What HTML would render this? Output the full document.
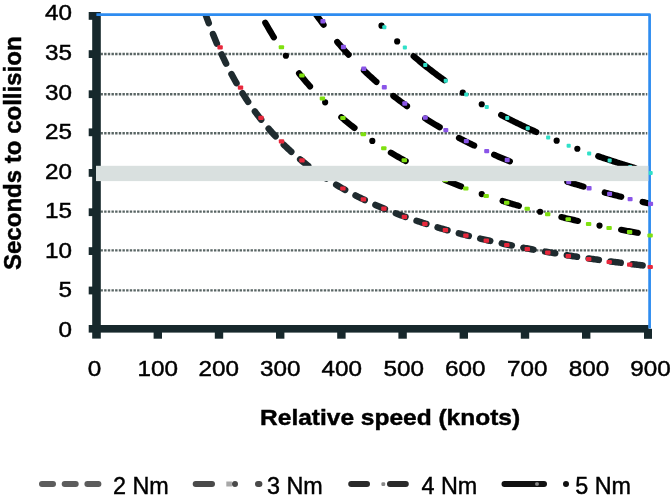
<!DOCTYPE html><html><head><meta charset="utf-8"><title>Seconds to collision vs relative speed</title>
<style>html,body{margin:0;padding:0;background:#fff}svg{display:block}text{stroke:#000;stroke-width:0.45px;font-family:"Liberation Sans",Arial,Helvetica,sans-serif;fill:#000}</style></head><body>
<svg width="672" height="499" viewBox="0 0 672 499">
<rect width="672" height="499" fill="#fff"/>
<defs><clipPath id="plot"><rect x="100" y="14.6" width="552" height="318"/></clipPath></defs>
<line x1="100.5" x2="647.3" y1="54.0" y2="54.0" stroke="#596564" stroke-width="2.4" stroke-dasharray="2.4 1.26"/>
<line x1="100.5" x2="647.3" y1="94.2" y2="94.2" stroke="#596564" stroke-width="2.4" stroke-dasharray="2.4 1.26"/>
<line x1="100.5" x2="647.3" y1="133.2" y2="133.2" stroke="#596564" stroke-width="2.4" stroke-dasharray="2.4 1.26"/>
<line x1="100.5" x2="647.3" y1="211.6" y2="211.6" stroke="#596564" stroke-width="2.4" stroke-dasharray="2.4 1.26"/>
<line x1="100.5" x2="647.3" y1="250.4" y2="250.4" stroke="#596564" stroke-width="2.4" stroke-dasharray="2.4 1.26"/>
<line x1="100.5" x2="647.3" y1="290.4" y2="290.4" stroke="#596564" stroke-width="2.4" stroke-dasharray="2.4 1.26"/>
<rect x="92.2" y="12" width="8.6" height="326.6" fill="#17282c"/>
<rect x="88.7" y="325" width="560" height="7.6" fill="#17282c"/>
<rect x="88.7" y="12.0" width="5" height="7.8" fill="#17282c"/>
<rect x="88.7" y="50.2" width="5" height="7.8" fill="#17282c"/>
<rect x="88.7" y="90.3" width="5" height="7.8" fill="#17282c"/>
<rect x="88.7" y="128.4" width="5" height="7.8" fill="#17282c"/>
<rect x="88.7" y="169.0" width="5" height="7.8" fill="#17282c"/>
<rect x="88.7" y="208.3" width="5" height="7.8" fill="#17282c"/>
<rect x="88.7" y="247.2" width="5" height="7.8" fill="#17282c"/>
<rect x="88.7" y="286.6" width="5" height="7.8" fill="#17282c"/>
<rect x="153.6" y="328" width="8.4" height="10.7" fill="#17282c"/>
<rect x="214.8" y="328" width="8.4" height="10.7" fill="#17282c"/>
<rect x="276.0" y="328" width="8.4" height="10.7" fill="#17282c"/>
<rect x="337.2" y="328" width="8.4" height="10.7" fill="#17282c"/>
<rect x="398.4" y="328" width="8.4" height="10.7" fill="#17282c"/>
<rect x="459.6" y="328" width="8.4" height="10.7" fill="#17282c"/>
<rect x="520.8" y="328" width="8.4" height="10.7" fill="#17282c"/>
<rect x="582.0" y="328" width="8.4" height="10.7" fill="#17282c"/>
<rect x="644" y="328.8" width="8" height="10" fill="#17282c"/>
<g clip-path="url(#plot)"><g transform="translate(-1.6 0)" fill="none" stroke-linecap="round" stroke-linejoin="round">
<path d="M188.93 -47.90 L190.15 -42.95 L191.38 -38.12 L192.61 -33.42 L193.84 -28.83 L195.07 -24.36 L196.30 -20.00 L197.53 -15.75 L198.76 -11.60 L199.99 -7.54 L201.22 -3.59 L202.44 0.28 L203.67 4.06 L204.90 7.75 L206.13 11.35 L207.36 14.88 L208.59 18.33 L209.82 21.70 L211.05 25.01 L212.28 28.24 L213.50 31.40 L214.73 34.50 L215.96 37.53 L217.19 40.51 L218.42 43.42 L219.65 46.27 L220.88 49.07 L222.11 51.81 L223.34 54.50 L224.57 57.14 L225.80 59.73 L227.02 62.26 L228.25 64.76 L229.48 67.20 L230.71 69.60 L231.94 71.96 L233.17 74.27 L234.40 76.54 L235.63 78.78 L236.86 80.97 L238.09 83.12 L239.31 85.24 L240.54 87.32 L241.77 89.37 L243.00 91.38 L244.23 93.36 L245.46 95.31 L246.69 97.22 L247.92 99.10 L249.15 100.95 L250.38 102.78 L251.60 104.57 L252.83 106.34 L254.06 108.08 L255.29 109.79 L256.52 111.47 L257.75 113.13 L258.98 114.76 L260.21 116.37 L261.44 117.96 L262.67 119.52 L263.89 121.06 L265.12 122.58 L266.35 124.07 L267.58 125.54 L268.81 126.99 L270.04 128.43 L271.27 129.84 L272.50 131.23 L273.73 132.60 L274.96 133.95 L276.18 135.29 L277.41 136.60 L278.64 137.90 L279.87 139.18 L281.10 140.45 L282.33 141.70 L283.56 142.93 L284.79 144.14 L286.02 145.34 L287.25 146.52 L288.47 147.69 L289.70 148.85 L290.93 149.98 L292.16 151.11 L293.39 152.22 L294.62 153.32 L295.85 154.40 L297.08 155.47 L298.31 156.53 L299.54 157.57 L300.76 158.60 L301.99 159.62 L303.22 160.63 L304.45 161.62 L305.68 162.61 L306.91 163.58 L308.14 164.54 L309.37 165.49 L310.60 166.43 L311.83 167.36 L313.05 168.27 L314.28 169.18 L315.51 170.08 L316.74 170.96 L317.97 171.84 L319.20 172.71 L320.43 173.56 L321.66 174.41 L322.89 175.25 L324.12 176.08 L325.34 176.90 L326.57 177.72 L327.80 178.52 L329.03 179.31 L330.26 180.10 L331.49 180.88 L332.72 181.65 L333.95 182.41 L335.18 183.17 L336.41 183.91 L337.63 184.65 L338.86 185.38 L340.09 186.11 L341.32 186.83 L342.55 187.54 L343.78 188.24 L345.01 188.93 L346.24 189.62 L347.47 190.31 L348.70 190.98 L349.92 191.65 L351.15 192.31 L352.38 192.97 L353.61 193.62 L354.84 194.26 L356.07 194.90 L357.30 195.53 L358.53 196.16 L359.76 196.78 L360.99 197.39 L362.21 198.00 L363.44 198.60 L364.67 199.20 L365.90 199.79 L367.13 200.38 L368.36 200.96 L369.59 201.54 L370.82 202.11 L372.05 202.67 L373.28 203.23 L374.50 203.79 L375.73 204.34 L376.96 204.88 L378.19 205.43 L379.42 205.96 L380.65 206.49 L381.88 207.02 L383.11 207.54 L384.34 208.06 L385.56 208.58 L386.79 209.08 L388.02 209.59 L389.25 210.09 L390.48 210.59 L391.71 211.08 L392.94 211.57 L394.17 212.05 L395.40 212.53 L396.63 213.01 L397.86 213.48 L399.08 213.95 L400.31 214.42 L401.54 214.88 L402.77 215.33 L404.00 215.79 L405.23 216.24 L406.46 216.69 L407.69 217.13 L408.92 217.57 L410.15 218.00 L411.37 218.44 L412.60 218.87 L413.83 219.29 L415.06 219.72 L416.29 220.14 L417.52 220.55 L418.75 220.96 L419.98 221.37 L421.21 221.78 L422.44 222.19 L423.66 222.59 L424.89 222.98 L426.12 223.38 L427.35 223.77 L428.58 224.16 L429.81 224.55 L431.04 224.93 L432.27 225.31 L433.50 225.69 L434.73 226.06 L435.95 226.43 L437.18 226.80 L438.41 227.17 L439.64 227.54 L440.87 227.90 L442.10 228.26 L443.33 228.61 L444.56 228.97 L445.79 229.32 L447.02 229.67 L448.24 230.01 L449.47 230.36 L450.70 230.70 L451.93 231.04 L453.16 231.38 L454.39 231.71 L455.62 232.04 L456.85 232.37 L458.08 232.70 L459.31 233.03 L460.53 233.35 L461.76 233.67 L462.99 233.99 L464.22 234.31 L465.45 234.62 L466.68 234.94 L467.91 235.25 L469.14 235.56 L470.37 235.86 L471.60 236.17 L472.82 236.47 L474.05 236.77 L475.28 237.07 L476.51 237.37 L477.74 237.66 L478.97 237.95 L480.20 238.25 L481.43 238.54 L482.66 238.82 L483.89 239.11 L485.11 239.39 L486.34 239.67 L487.57 239.95 L488.80 240.23 L490.03 240.51 L491.26 240.79 L492.49 241.06 L493.72 241.33 L494.95 241.60 L496.18 241.87 L497.40 242.13 L498.63 242.40 L499.86 242.66 L501.09 242.93 L502.32 243.19 L503.55 243.44 L504.78 243.70 L506.01 243.96 L507.24 244.21 L508.47 244.46 L509.69 244.71 L510.92 244.96 L512.15 245.21 L513.38 245.46 L514.61 245.70 L515.84 245.95 L517.07 246.19 L518.30 246.43 L519.53 246.67 L520.76 246.91 L521.98 247.14 L523.21 247.38 L524.44 247.61 L525.67 247.85 L526.90 248.08 L528.13 248.31 L529.36 248.54 L530.59 248.76 L531.82 248.99 L533.05 249.21 L534.27 249.44 L535.50 249.66 L536.73 249.88 L537.96 250.10 L539.19 250.32 L540.42 250.54 L541.65 250.75 L542.88 250.97 L544.11 251.18 L545.34 251.40 L546.56 251.61 L547.79 251.82 L549.02 252.03 L550.25 252.23 L551.48 252.44 L552.71 252.65 L553.94 252.85 L555.17 253.06 L556.40 253.26 L557.62 253.46 L558.85 253.66 L560.08 253.86 L561.31 254.06 L562.54 254.25 L563.77 254.45 L565.00 254.65 L566.23 254.84 L567.46 255.03 L568.69 255.23 L569.91 255.42 L571.14 255.61 L572.37 255.80 L573.60 255.98 L574.83 256.17 L576.06 256.36 L577.29 256.54 L578.52 256.73 L579.75 256.91 L580.98 257.09 L582.21 257.27 L583.43 257.45 L584.66 257.63 L585.89 257.81 L587.12 257.99 L588.35 258.17 L589.58 258.34 L590.81 258.52 L592.04 258.69 L593.27 258.87 L594.50 259.04 L595.72 259.21 L596.95 259.38 L598.18 259.55 L599.41 259.72 L600.64 259.89 L601.87 260.06 L603.10 260.23 L604.33 260.39 L605.56 260.56 L606.79 260.72 L608.01 260.88 L609.24 261.05 L610.47 261.21 L611.70 261.37 L612.93 261.53 L614.16 261.69 L615.39 261.85 L616.62 262.01 L617.85 262.17 L619.08 262.32 L620.30 262.48 L621.53 262.63 L622.76 262.79 L623.99 262.94 L625.22 263.10 L626.45 263.25 L627.68 263.40 L628.91 263.55 L630.14 263.70 L631.37 263.85 L632.59 264.00 L633.82 264.15 L635.05 264.30 L636.28 264.44 L637.51 264.59 L638.74 264.73 L639.97 264.88 L641.20 265.02 L642.43 265.17 L643.66 265.31 L644.88 265.45 L646.11 265.59 L647.34 265.74 L648.57 265.88 L649.80 266.02" stroke="#1f2b2f" stroke-width="6.5" stroke-dasharray="10.3 11.75" stroke-dashoffset="2.2"/>
<path d="M261.44 12.54 L262.67 14.88 L263.89 17.19 L265.12 19.46 L266.35 21.70 L267.58 23.91 L268.81 26.09 L270.04 28.24 L271.27 30.35 L272.50 32.44 L273.73 34.50 L274.96 36.53 L276.18 38.53 L277.41 40.51 L278.64 42.45 L279.87 44.38 L281.10 46.27 L282.33 48.14 L283.56 49.99 L284.79 51.81 L286.02 53.61 L287.25 55.39 L288.47 57.14 L289.70 58.87 L290.93 60.58 L292.16 62.26 L293.39 63.93 L294.62 65.58 L295.85 67.20 L297.08 68.80 L298.31 70.39 L299.54 71.96 L300.76 73.50 L301.99 75.03 L303.22 76.54 L304.45 78.04 L305.68 79.51 L306.91 80.97 L308.14 82.41 L309.37 83.83 L310.60 85.24 L311.83 86.63 L313.05 88.01 L314.28 89.37 L315.51 90.71 L316.74 92.04 L317.97 93.36 L319.20 94.66 L320.43 95.95 L321.66 97.22 L322.89 98.48 L324.12 99.72 L325.34 100.95 L326.57 102.17 L327.80 103.38 L329.03 104.57 L330.26 105.75 L331.49 106.92 L332.72 108.08 L333.95 109.22 L335.18 110.35 L336.41 111.47 L337.63 112.58 L338.86 113.68 L340.09 114.76 L341.32 115.84 L342.55 116.90 L343.78 117.96 L345.01 119.00 L346.24 120.04 L347.47 121.06 L348.70 122.07 L349.92 123.08 L351.15 124.07 L352.38 125.05 L353.61 126.03 L354.84 126.99 L356.07 127.95 L357.30 128.90 L358.53 129.84 L359.76 130.77 L360.99 131.69 L362.21 132.60 L363.44 133.50 L364.67 134.40 L365.90 135.29 L367.13 136.17 L368.36 137.04 L369.59 137.90 L370.82 138.76 L372.05 139.61 L373.28 140.45 L374.50 141.28 L375.73 142.11 L376.96 142.93 L378.19 143.74 L379.42 144.54 L380.65 145.34 L381.88 146.13 L383.11 146.92 L384.34 147.69 L385.56 148.46 L386.79 149.23 L388.02 149.98 L389.25 150.74 L390.48 151.48 L391.71 152.22 L392.94 152.95 L394.17 153.68 L395.40 154.40 L396.63 155.11 L397.86 155.82 L399.08 156.53 L400.31 157.22 L401.54 157.92 L402.77 158.60 L404.00 159.28 L405.23 159.96 L406.46 160.63 L407.69 161.29 L408.92 161.95 L410.15 162.61 L411.37 163.26 L412.60 163.90 L413.83 164.54 L415.06 165.17 L416.29 165.80 L417.52 166.43 L418.75 167.05 L419.98 167.66 L421.21 168.27 L422.44 168.88 L423.66 169.48 L424.89 170.08 L426.12 170.67 L427.35 171.26 L428.58 171.84 L429.81 172.42 L431.04 172.99 L432.27 173.56 L433.50 174.13 L434.73 174.69 L435.95 175.25 L437.18 175.81 L438.41 176.36 L439.64 176.90 L440.87 177.45 L442.10 177.98 L443.33 178.52 L444.56 179.05 L445.79 179.58 L447.02 180.10 L448.24 180.62 L449.47 181.14 L450.70 181.65 L451.93 182.16 L453.16 182.66 L454.39 183.17 L455.62 183.67 L456.85 184.16 L458.08 184.65 L459.31 185.14 L460.53 185.63 L461.76 186.11 L462.99 186.59 L464.22 187.06 L465.45 187.54 L466.68 188.01 L467.91 188.47 L469.14 188.93 L470.37 189.39 L471.60 189.85 L472.82 190.31 L474.05 190.76 L475.28 191.21 L476.51 191.65 L477.74 192.09 L478.97 192.53 L480.20 192.97 L481.43 193.40 L482.66 193.83 L483.89 194.26 L485.11 194.69 L486.34 195.11 L487.57 195.53 L488.80 195.95 L490.03 196.37 L491.26 196.78 L492.49 197.19 L493.72 197.60 L494.95 198.00 L496.18 198.40 L497.40 198.80 L498.63 199.20 L499.86 199.60 L501.09 199.99 L502.32 200.38 L503.55 200.77 L504.78 201.15 L506.01 201.54 L507.24 201.92 L508.47 202.29 L509.69 202.67 L510.92 203.05 L512.15 203.42 L513.38 203.79 L514.61 204.16 L515.84 204.52 L517.07 204.88 L518.30 205.25 L519.53 205.60 L520.76 205.96 L521.98 206.32 L523.21 206.67 L524.44 207.02 L525.67 207.37 L526.90 207.72 L528.13 208.06 L529.36 208.40 L530.59 208.75 L531.82 209.08 L533.05 209.42 L534.27 209.76 L535.50 210.09 L536.73 210.42 L537.96 210.75 L539.19 211.08 L540.42 211.41 L541.65 211.73 L542.88 212.05 L544.11 212.37 L545.34 212.69 L546.56 213.01 L547.79 213.33 L549.02 213.64 L550.25 213.95 L551.48 214.26 L552.71 214.57 L553.94 214.88 L555.17 215.18 L556.40 215.49 L557.62 215.79 L558.85 216.09 L560.08 216.39 L561.31 216.69 L562.54 216.98 L563.77 217.28 L565.00 217.57 L566.23 217.86 L567.46 218.15 L568.69 218.44 L569.91 218.72 L571.14 219.01 L572.37 219.29 L573.60 219.58 L574.83 219.86 L576.06 220.14 L577.29 220.41 L578.52 220.69 L579.75 220.96 L580.98 221.24 L582.21 221.51 L583.43 221.78 L584.66 222.05 L585.89 222.32 L587.12 222.59 L588.35 222.85 L589.58 223.12 L590.81 223.38 L592.04 223.64 L593.27 223.90 L594.50 224.16 L595.72 224.42 L596.95 224.67 L598.18 224.93 L599.41 225.18 L600.64 225.44 L601.87 225.69 L603.10 225.94 L604.33 226.19 L605.56 226.43 L606.79 226.68 L608.01 226.93 L609.24 227.17 L610.47 227.41 L611.70 227.66 L612.93 227.90 L614.16 228.14 L615.39 228.38 L616.62 228.61 L617.85 228.85 L619.08 229.08 L620.30 229.32 L621.53 229.55 L622.76 229.78 L623.99 230.01 L625.22 230.24 L626.45 230.47 L627.68 230.70 L628.91 230.93 L630.14 231.15 L631.37 231.38 L632.59 231.60 L633.82 231.82 L635.05 232.04 L636.28 232.26 L637.51 232.48 L638.74 232.70 L639.97 232.92 L641.20 233.14 L642.43 233.35 L643.66 233.57 L644.88 233.78 L646.11 233.99 L647.34 234.20 L648.57 234.41 L649.80 234.62" stroke="#000" stroke-width="6.2" stroke-dasharray="17 22 0 22" stroke-dashoffset="-11.5"/>
<path d="M305.68 -3.59 L306.91 -1.64 L308.14 0.28 L309.37 2.18 L310.60 4.06 L311.83 5.91 L313.05 7.75 L314.28 9.56 L315.51 11.35 L316.74 13.13 L317.97 14.88 L319.20 16.61 L320.43 18.33 L321.66 20.03 L322.89 21.70 L324.12 23.36 L325.34 25.01 L326.57 26.63 L327.80 28.24 L329.03 29.83 L330.26 31.40 L331.49 32.96 L332.72 34.50 L333.95 36.02 L335.18 37.53 L336.41 39.03 L337.63 40.51 L338.86 41.97 L340.09 43.42 L341.32 44.85 L342.55 46.27 L343.78 47.68 L345.01 49.07 L346.24 50.45 L347.47 51.81 L348.70 53.16 L349.92 54.50 L351.15 55.83 L352.38 57.14 L353.61 58.44 L354.84 59.73 L356.07 61.00 L357.30 62.26 L358.53 63.52 L359.76 64.76 L360.99 65.98 L362.21 67.20 L363.44 68.41 L364.67 69.60 L365.90 70.78 L367.13 71.96 L368.36 73.12 L369.59 74.27 L370.82 75.41 L372.05 76.54 L373.28 77.66 L374.50 78.78 L375.73 79.88 L376.96 80.97 L378.19 82.05 L379.42 83.12 L380.65 84.19 L381.88 85.24 L383.11 86.29 L384.34 87.32 L385.56 88.35 L386.79 89.37 L388.02 90.38 L389.25 91.38 L390.48 92.37 L391.71 93.36 L392.94 94.34 L394.17 95.31 L395.40 96.27 L396.63 97.22 L397.86 98.16 L399.08 99.10 L400.31 100.03 L401.54 100.95 L402.77 101.87 L404.00 102.78 L405.23 103.68 L406.46 104.57 L407.69 105.46 L408.92 106.34 L410.15 107.21 L411.37 108.08 L412.60 108.93 L413.83 109.79 L415.06 110.63 L416.29 111.47 L417.52 112.30 L418.75 113.13 L419.98 113.95 L421.21 114.76 L422.44 115.57 L423.66 116.37 L424.89 117.17 L426.12 117.96 L427.35 118.74 L428.58 119.52 L429.81 120.29 L431.04 121.06 L432.27 121.82 L433.50 122.58 L434.73 123.33 L435.95 124.07 L437.18 124.81 L438.41 125.54 L439.64 126.27 L440.87 126.99 L442.10 127.71 L443.33 128.43 L444.56 129.13 L445.79 129.84 L447.02 130.53 L448.24 131.23 L449.47 131.92 L450.70 132.60 L451.93 133.28 L453.16 133.95 L454.39 134.62 L455.62 135.29 L456.85 135.95 L458.08 136.60 L459.31 137.26 L460.53 137.90 L461.76 138.55 L462.99 139.18 L464.22 139.82 L465.45 140.45 L466.68 141.07 L467.91 141.70 L469.14 142.31 L470.37 142.93 L471.60 143.54 L472.82 144.14 L474.05 144.74 L475.28 145.34 L476.51 145.93 L477.74 146.52 L478.97 147.11 L480.20 147.69 L481.43 148.27 L482.66 148.85 L483.89 149.42 L485.11 149.98 L486.34 150.55 L487.57 151.11 L488.80 151.67 L490.03 152.22 L491.26 152.77 L492.49 153.32 L493.72 153.86 L494.95 154.40 L496.18 154.94 L497.40 155.47 L498.63 156.00 L499.86 156.53 L501.09 157.05 L502.32 157.57 L503.55 158.09 L504.78 158.60 L506.01 159.11 L507.24 159.62 L508.47 160.13 L509.69 160.63 L510.92 161.13 L512.15 161.62 L513.38 162.12 L514.61 162.61 L515.84 163.09 L517.07 163.58 L518.30 164.06 L519.53 164.54 L520.76 165.02 L521.98 165.49 L523.21 165.96 L524.44 166.43 L525.67 166.89 L526.90 167.36 L528.13 167.82 L529.36 168.27 L530.59 168.73 L531.82 169.18 L533.05 169.63 L534.27 170.08 L535.50 170.52 L536.73 170.96 L537.96 171.40 L539.19 171.84 L540.42 172.27 L541.65 172.71 L542.88 173.14 L544.11 173.56 L545.34 173.99 L546.56 174.41 L547.79 174.83 L549.02 175.25 L550.25 175.67 L551.48 176.08 L552.71 176.49 L553.94 176.90 L555.17 177.31 L556.40 177.72 L557.62 178.12 L558.85 178.52 L560.08 178.92 L561.31 179.31 L562.54 179.71 L563.77 180.10 L565.00 180.49 L566.23 180.88 L567.46 181.27 L568.69 181.65 L569.91 182.03 L571.14 182.41 L572.37 182.79 L573.60 183.17 L574.83 183.54 L576.06 183.91 L577.29 184.28 L578.52 184.65 L579.75 185.02 L580.98 185.38 L582.21 185.75 L583.43 186.11 L584.66 186.47 L585.89 186.83 L587.12 187.18 L588.35 187.54 L589.58 187.89 L590.81 188.24 L592.04 188.59 L593.27 188.93 L594.50 189.28 L595.72 189.62 L596.95 189.97 L598.18 190.31 L599.41 190.64 L600.64 190.98 L601.87 191.32 L603.10 191.65 L604.33 191.98 L605.56 192.31 L606.79 192.64 L608.01 192.97 L609.24 193.29 L610.47 193.62 L611.70 193.94 L612.93 194.26 L614.16 194.58 L615.39 194.90 L616.62 195.22 L617.85 195.53 L619.08 195.85 L620.30 196.16 L621.53 196.47 L622.76 196.78 L623.99 197.09 L625.22 197.39 L626.45 197.70 L627.68 198.00 L628.91 198.30 L630.14 198.60 L631.37 198.90 L632.59 199.20 L633.82 199.50 L635.05 199.79 L636.28 200.09 L637.51 200.38 L638.74 200.67 L639.97 200.96 L641.20 201.25 L642.43 201.54 L643.66 201.82 L644.88 202.11 L646.11 202.39 L647.34 202.67 L648.57 202.95 L649.80 203.23" stroke="#000" stroke-width="6.2" stroke-dasharray="17 22" stroke-dashoffset="21.6"/>
<path d="M383.11 25.66 L384.34 26.95 L385.56 28.24 L386.79 29.51 L388.02 30.77 L389.25 32.03 L390.48 33.27 L391.71 34.50 L392.94 35.72 L394.17 36.93 L395.40 38.13 L396.63 39.32 L397.86 40.51 L399.08 41.68 L400.31 42.84 L401.54 43.99 L402.77 45.14 L404.00 46.27 L405.23 47.40 L406.46 48.51 L407.69 49.62 L408.92 50.72 L410.15 51.81 L411.37 52.89 L412.60 53.97 L413.83 55.03 L415.06 56.09 L416.29 57.14 L417.52 58.18 L418.75 59.21 L419.98 60.24 L421.21 61.25 L422.44 62.26 L423.66 63.27 L424.89 64.26 L426.12 65.25 L427.35 66.23 L428.58 67.20 L429.81 68.17 L431.04 69.12 L432.27 70.07 L433.50 71.02 L434.73 71.96 L435.95 72.89 L437.18 73.81 L438.41 74.73 L439.64 75.64 L440.87 76.54 L442.10 77.44 L443.33 78.33 L444.56 79.22 L445.79 80.10 L447.02 80.97 L448.24 81.83 L449.47 82.70 L450.70 83.55 L451.93 84.40 L453.16 85.24 L454.39 86.08 L455.62 86.91 L456.85 87.74 L458.08 88.56 L459.31 89.37 L460.53 90.18 L461.76 90.98 L462.99 91.78 L464.22 92.57 L465.45 93.36 L466.68 94.14 L467.91 94.92 L469.14 95.69 L470.37 96.46 L471.60 97.22 L472.82 97.98 L474.05 98.73 L475.28 99.48 L476.51 100.22 L477.74 100.95 L478.97 101.69 L480.20 102.42 L481.43 103.14 L482.66 103.86 L483.89 104.57 L485.11 105.28 L486.34 105.99 L487.57 106.69 L488.80 107.38 L490.03 108.08 L491.26 108.76 L492.49 109.45 L493.72 110.13 L494.95 110.80 L496.18 111.47 L497.40 112.14 L498.63 112.80 L499.86 113.46 L501.09 114.11 L502.32 114.76 L503.55 115.41 L504.78 116.05 L506.01 116.69 L507.24 117.33 L508.47 117.96 L509.69 118.59 L510.92 119.21 L512.15 119.83 L513.38 120.45 L514.61 121.06 L515.84 121.67 L517.07 122.27 L518.30 122.88 L519.53 123.47 L520.76 124.07 L521.98 124.66 L523.21 125.25 L524.44 125.83 L525.67 126.42 L526.90 126.99 L528.13 127.57 L529.36 128.14 L530.59 128.71 L531.82 129.27 L533.05 129.84 L534.27 130.40 L535.50 130.95 L536.73 131.50 L537.96 132.05 L539.19 132.60 L540.42 133.14 L541.65 133.68 L542.88 134.22 L544.11 134.76 L545.34 135.29 L546.56 135.82 L547.79 136.34 L549.02 136.87 L550.25 137.39 L551.48 137.90 L552.71 138.42 L553.94 138.93 L555.17 139.44 L556.40 139.94 L557.62 140.45 L558.85 140.95 L560.08 141.45 L561.31 141.94 L562.54 142.44 L563.77 142.93 L565.00 143.41 L566.23 143.90 L567.46 144.38 L568.69 144.86 L569.91 145.34 L571.14 145.82 L572.37 146.29 L573.60 146.76 L574.83 147.23 L576.06 147.69 L577.29 148.16 L578.52 148.62 L579.75 149.07 L580.98 149.53 L582.21 149.98 L583.43 150.44 L584.66 150.89 L585.89 151.33 L587.12 151.78 L588.35 152.22 L589.58 152.66 L590.81 153.10 L592.04 153.53 L593.27 153.97 L594.50 154.40 L595.72 154.83 L596.95 155.26 L598.18 155.68 L599.41 156.11 L600.64 156.53 L601.87 156.95 L603.10 157.36 L604.33 157.78 L605.56 158.19 L606.79 158.60 L608.01 159.01 L609.24 159.42 L610.47 159.82 L611.70 160.23 L612.93 160.63 L614.16 161.03 L615.39 161.43 L616.62 161.82 L617.85 162.22 L619.08 162.61 L620.30 163.00 L621.53 163.39 L622.76 163.77 L623.99 164.16 L625.22 164.54 L626.45 164.92 L627.68 165.30 L628.91 165.68 L630.14 166.05 L631.37 166.43 L632.59 166.80 L633.82 167.17 L635.05 167.54 L636.28 167.91 L637.51 168.27 L638.74 168.64 L639.97 169.00 L641.20 169.36 L642.43 169.72 L643.66 170.08 L644.88 170.43 L646.11 170.79 L647.34 171.14 L648.57 171.49 L649.80 171.84" stroke="#000" stroke-width="6.2" stroke-dasharray="39 22.2 0 22.2 0 22.2" stroke-dashoffset="61.2"/>
</g></g>
<path d="M96.4 14.6 H649.6 V328.6" fill="none" stroke="#2e8cf0" stroke-width="2.7" stroke-linejoin="round"/>
<g>
<rect x="217.4" y="45.2" width="5.4" height="4.2" rx="1" fill="#e8283c"/>
<rect x="237.8" y="85.5" width="5.4" height="4.2" rx="1" fill="#e8283c"/>
<rect x="258.3" y="115.8" width="5.4" height="4.2" rx="1" fill="#e8283c"/>
<rect x="278.8" y="139.3" width="5.4" height="4.2" rx="1" fill="#e8283c"/>
<rect x="299.3" y="158.2" width="5.4" height="4.2" rx="1" fill="#e8283c"/>
<rect x="319.8" y="173.6" width="5.4" height="4.2" rx="1" fill="#e8283c"/>
<rect x="340.2" y="186.4" width="5.4" height="4.2" rx="1" fill="#e8283c"/>
<rect x="360.7" y="197.3" width="5.4" height="4.2" rx="1" fill="#e8283c"/>
<rect x="381.2" y="206.6" width="5.4" height="4.2" rx="1" fill="#e8283c"/>
<rect x="401.7" y="214.7" width="5.4" height="4.2" rx="1" fill="#e8283c"/>
<rect x="422.2" y="221.8" width="5.4" height="4.2" rx="1" fill="#e8283c"/>
<rect x="442.7" y="228.0" width="5.4" height="4.2" rx="1" fill="#e8283c"/>
<rect x="463.2" y="233.5" width="5.4" height="4.2" rx="1" fill="#e8283c"/>
<rect x="483.6" y="238.5" width="5.4" height="4.2" rx="1" fill="#e8283c"/>
<rect x="504.1" y="242.9" width="5.4" height="4.2" rx="1" fill="#e8283c"/>
<rect x="524.6" y="247.0" width="5.4" height="4.2" rx="1" fill="#e8283c"/>
<rect x="545.1" y="250.6" width="5.4" height="4.2" rx="1" fill="#e8283c"/>
<rect x="565.6" y="254.0" width="5.4" height="4.2" rx="1" fill="#e8283c"/>
<rect x="586.0" y="257.1" width="5.4" height="4.2" rx="1" fill="#e8283c"/>
<rect x="606.5" y="259.9" width="5.4" height="4.2" rx="1" fill="#e8283c"/>
<rect x="627.0" y="262.5" width="5.4" height="4.2" rx="1" fill="#e8283c"/>
<rect x="647.5" y="264.9" width="5.4" height="4.2" rx="1" fill="#e8283c"/>
<rect x="278.7" y="45.3" width="5.4" height="4.0" rx="1" fill="#7fe010"/>
<rect x="299.2" y="73.5" width="5.4" height="4.0" rx="1" fill="#7fe010"/>
<rect x="319.7" y="96.6" width="5.4" height="4.0" rx="1" fill="#7fe010"/>
<rect x="340.2" y="115.9" width="5.4" height="4.0" rx="1" fill="#7fe010"/>
<rect x="360.6" y="132.2" width="5.4" height="4.0" rx="1" fill="#7fe010"/>
<rect x="381.1" y="146.2" width="5.4" height="4.0" rx="1" fill="#7fe010"/>
<rect x="401.6" y="158.3" width="5.4" height="4.0" rx="1" fill="#7fe010"/>
<rect x="422.1" y="168.9" width="5.4" height="4.0" rx="1" fill="#7fe010"/>
<rect x="442.6" y="178.2" width="5.4" height="4.0" rx="1" fill="#7fe010"/>
<rect x="463.1" y="186.5" width="5.4" height="4.0" rx="1" fill="#7fe010"/>
<rect x="483.5" y="194.0" width="5.4" height="4.0" rx="1" fill="#7fe010"/>
<rect x="504.0" y="200.7" width="5.4" height="4.0" rx="1" fill="#7fe010"/>
<rect x="524.5" y="206.7" width="5.4" height="4.0" rx="1" fill="#7fe010"/>
<rect x="545.0" y="212.2" width="5.4" height="4.0" rx="1" fill="#7fe010"/>
<rect x="565.5" y="217.2" width="5.4" height="4.0" rx="1" fill="#7fe010"/>
<rect x="585.9" y="221.9" width="5.4" height="4.0" rx="1" fill="#7fe010"/>
<rect x="606.4" y="226.1" width="5.4" height="4.0" rx="1" fill="#7fe010"/>
<rect x="626.9" y="230.0" width="5.4" height="4.0" rx="1" fill="#7fe010"/>
<rect x="647.4" y="233.6" width="5.4" height="4.0" rx="1" fill="#7fe010"/>
<rect x="320.4" y="19.1" width="5.0" height="4.4" rx="1" fill="#8a55e8"/>
<rect x="340.9" y="44.8" width="5.0" height="4.4" rx="1" fill="#8a55e8"/>
<rect x="361.3" y="66.5" width="5.0" height="4.4" rx="1" fill="#8a55e8"/>
<rect x="381.8" y="85.1" width="5.0" height="4.4" rx="1" fill="#8a55e8"/>
<rect x="402.3" y="101.3" width="5.0" height="4.4" rx="1" fill="#8a55e8"/>
<rect x="422.8" y="115.4" width="5.0" height="4.4" rx="1" fill="#8a55e8"/>
<rect x="443.3" y="127.9" width="5.0" height="4.4" rx="1" fill="#8a55e8"/>
<rect x="463.8" y="138.9" width="5.0" height="4.4" rx="1" fill="#8a55e8"/>
<rect x="484.2" y="148.9" width="5.0" height="4.4" rx="1" fill="#8a55e8"/>
<rect x="504.7" y="157.8" width="5.0" height="4.4" rx="1" fill="#8a55e8"/>
<rect x="525.2" y="165.9" width="5.0" height="4.4" rx="1" fill="#8a55e8"/>
<rect x="545.7" y="173.2" width="5.0" height="4.4" rx="1" fill="#8a55e8"/>
<rect x="566.2" y="179.9" width="5.0" height="4.4" rx="1" fill="#8a55e8"/>
<rect x="586.6" y="186.0" width="5.0" height="4.4" rx="1" fill="#8a55e8"/>
<rect x="607.1" y="191.7" width="5.0" height="4.4" rx="1" fill="#8a55e8"/>
<rect x="627.6" y="196.9" width="5.0" height="4.4" rx="1" fill="#8a55e8"/>
<rect x="648.1" y="201.7" width="5.0" height="4.4" rx="1" fill="#8a55e8"/>
<rect x="382.3" y="25.3" width="4.1" height="4.0" rx="1" fill="#30e0c8"/>
<rect x="402.8" y="45.5" width="4.1" height="4.0" rx="1" fill="#30e0c8"/>
<rect x="423.2" y="63.1" width="4.1" height="4.0" rx="1" fill="#30e0c8"/>
<rect x="443.7" y="78.7" width="4.1" height="4.0" rx="1" fill="#30e0c8"/>
<rect x="464.2" y="92.6" width="4.1" height="4.0" rx="1" fill="#30e0c8"/>
<rect x="484.7" y="105.0" width="4.1" height="4.0" rx="1" fill="#30e0c8"/>
<rect x="505.2" y="116.1" width="4.1" height="4.0" rx="1" fill="#30e0c8"/>
<rect x="525.7" y="126.2" width="4.1" height="4.0" rx="1" fill="#30e0c8"/>
<rect x="546.1" y="135.4" width="4.1" height="4.0" rx="1" fill="#30e0c8"/>
<rect x="566.6" y="143.7" width="4.1" height="4.0" rx="1" fill="#30e0c8"/>
<rect x="587.1" y="151.4" width="4.1" height="4.0" rx="1" fill="#30e0c8"/>
<rect x="607.6" y="158.5" width="4.1" height="4.0" rx="1" fill="#30e0c8"/>
<rect x="628.1" y="165.0" width="4.1" height="4.0" rx="1" fill="#30e0c8"/>
<rect x="648.6" y="171.0" width="4.1" height="4.0" rx="1" fill="#30e0c8"/>
</g>
<rect x="96" y="165.8" width="552.3" height="15.3" fill="#d9e0df"/>
<text transform="translate(71.9 20.3) scale(1.103 1)" font-size="22.0" text-anchor="end">40</text>
<text transform="translate(71.9 60.1) scale(1.103 1)" font-size="22.0" text-anchor="end">35</text>
<text transform="translate(71.9 99.8) scale(1.103 1)" font-size="22.0" text-anchor="end">30</text>
<text transform="translate(71.9 138.8) scale(1.103 1)" font-size="22.0" text-anchor="end">25</text>
<text transform="translate(71.9 178.9) scale(1.103 1)" font-size="22.0" text-anchor="end">20</text>
<text transform="translate(71.9 217.8) scale(1.103 1)" font-size="22.0" text-anchor="end">15</text>
<text transform="translate(71.9 257.6) scale(1.103 1)" font-size="22.0" text-anchor="end">10</text>
<text transform="translate(71.9 296.8) scale(1.103 1)" font-size="22.0" text-anchor="end">5</text>
<text transform="translate(71.9 336.5) scale(1.103 1)" font-size="22.0" text-anchor="end">0</text>
<text transform="translate(94.4 376.2) scale(1.103 1)" font-size="22.0" text-anchor="middle">0</text>
<text transform="translate(157.8 376.2) scale(1.103 1)" font-size="22.0" text-anchor="middle">100</text>
<text transform="translate(218.7 376.2) scale(1.103 1)" font-size="22.0" text-anchor="middle">200</text>
<text transform="translate(280.3 376.2) scale(1.103 1)" font-size="22.0" text-anchor="middle">300</text>
<text transform="translate(341.8 376.2) scale(1.103 1)" font-size="22.0" text-anchor="middle">400</text>
<text transform="translate(403.7 376.2) scale(1.103 1)" font-size="22.0" text-anchor="middle">500</text>
<text transform="translate(465.3 376.2) scale(1.103 1)" font-size="22.0" text-anchor="middle">600</text>
<text transform="translate(527.3 376.2) scale(1.103 1)" font-size="22.0" text-anchor="middle">700</text>
<text transform="translate(589.1 376.2) scale(1.103 1)" font-size="22.0" text-anchor="middle">800</text>
<text transform="translate(650.5 376.2) scale(1.103 1)" font-size="22.0" text-anchor="middle">900</text>
<text transform="translate(390.1 425) scale(1.07 1)" font-size="22.9" font-weight="bold" text-anchor="middle">Relative speed (knots)</text>
<text transform="translate(21 153.2) rotate(-90) scale(1.01 1)" font-size="23.8" font-weight="bold" text-anchor="middle">Seconds to collision</text>
<g fill="none" stroke-linecap="round" stroke-width="6">
<path d="M42 484 H99" stroke="#5c5c5c" stroke-dasharray="11 11.7"/>
<path d="M195.7 484 H259.4" stroke="#4a4a4a" stroke-dasharray="16.3 23 0 23"/>
<path d="M351.2 484 H407" stroke="#2a2a2a" stroke-dasharray="15.8 23"/>
<path d="M504.5 484 H567" stroke="#111" stroke-dasharray="39.5 22 0 22"/>
</g>
<rect x="226.3" y="481.5" width="5.6" height="5" fill="#a8a8a8"/>
<rect x="381.4" y="482.2" width="3.8" height="3.8" rx="1.2" fill="#888"/>
<rect x="535.2" y="482.2" width="3.6" height="3.6" rx="1.4" fill="#8a8a8a"/>
<text transform="translate(113.0 493.6) scale(0.958 1)" font-size="24.4">2 Nm</text>
<text transform="translate(267.0 493.6) scale(0.958 1)" font-size="24.4">3 Nm</text>
<text transform="translate(421.4 493.6) scale(0.958 1)" font-size="24.4">4 Nm</text>
<text transform="translate(575.2 493.6) scale(0.958 1)" font-size="24.4">5 Nm</text>
</svg></body></html>
